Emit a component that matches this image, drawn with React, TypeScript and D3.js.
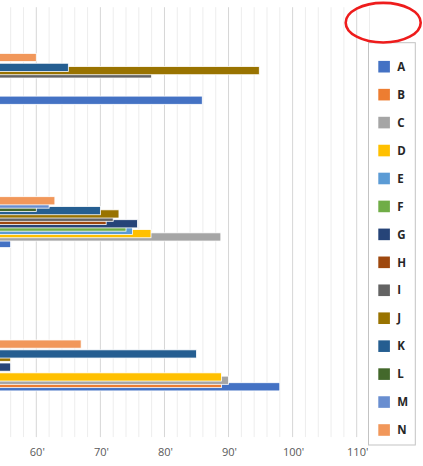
import { useEffect, useRef } from 'react';
import * as d3 from 'd3';

// categories, listed top to bottom as drawn
const CATEGORIES = ['Group 3', 'Group 2', 'Group 1'];

const SERIES = ['A', 'B', 'C', 'D', 'E', 'F', 'G', 'H', 'I', 'J', 'K', 'L', 'M', 'N'];

const COLORS = [
  '#4472C4', '#ED7D31', '#A5A5A5', '#FFC000', '#5B9BD5', '#70AD47', '#264478',
  '#9E480E', '#636363', '#997300', '#255E91', '#43682B', '#698ED0', '#F1975A'
];

// values per series, one per category (null = no bar in view)
const A_VALUES = [85.9, 56, 98];
const B_VALUES = [null, null, 88.9];
const C_VALUES = [null, 88.8, 90];
const D_VALUES = [null, 77.9, 88.9];
const E_VALUES = [null, 75, null];
const F_VALUES = [null, 74, null];
const G_VALUES = [null, 75.8, 56];
const H_VALUES = [null, 70.9, null];
const I_VALUES = [78, 72, null];
const J_VALUES = [94.8, 72.9, 56];
const K_VALUES = [65, 70, 85];
const L_VALUES = [null, 60, null];
const M_VALUES = [null, 62, null];
const N_VALUES = [60, 62.9, 67];

const VALUES: (number | null)[][] = [
  A_VALUES, B_VALUES, C_VALUES, D_VALUES, E_VALUES, F_VALUES, G_VALUES,
  H_VALUES, I_VALUES, J_VALUES, K_VALUES, L_VALUES, M_VALUES, N_VALUES
];

const MAJOR_TICKS = [60, 70, 80, 90, 100, 110];
const MINOR_TICKS = [56, 58, 62, 64, 66, 68, 72, 74, 76, 78, 82, 84, 86, 88, 92, 94, 96, 98, 102, 104, 106, 108, 112];

export default function App() {
  const svgRef = useRef<SVGSVGElement>(null);

  useEffect(() => {
    if (!svgRef.current) return;
    const width = 423;
    const height = 466;
    const plotTop = 7.2;
    const plotBottom = 437.1;
    const barHeight = 8.2;

    const svg = d3.select(svgRef.current);
    svg.selectAll('*').remove();
    svg.attr('width', width).attr('height', height);

    const x = d3.scaleLinear().domain([60, 110]).range([36.3, 356.7]);

    const y = d3.scaleBand()
      .domain(CATEGORIES)
      .range([plotTop, plotBottom])
      .paddingInner(0.6445)
      .paddingOuter(0.6445 / 2);

    // N at the top of each group, A at the bottom
    const offset = d3.scalePoint()
      .domain([...SERIES].reverse())
      .range([0, y.bandwidth() - barHeight]);

    // Gridlines
    svg.append('g')
      .selectAll('line')
      .data(MINOR_TICKS)
      .enter()
      .append('line')
      .attr('x1', d => x(d))
      .attr('x2', d => x(d))
      .attr('y1', plotTop)
      .attr('y2', plotBottom)
      .attr('stroke', '#ededed')
      .attr('stroke-width', 1);

    svg.append('g')
      .selectAll('line')
      .data(MAJOR_TICKS)
      .enter()
      .append('line')
      .attr('x1', d => x(d))
      .attr('x2', d => x(d))
      .attr('y1', plotTop)
      .attr('y2', plotBottom)
      .attr('stroke', '#d6d6d6')
      .attr('stroke-width', 1);

    // Bars, A drawn first so later series sit on top
    const barsG = svg.append('g');
    SERIES.forEach((s, si) => {
      CATEGORIES.forEach((c, ci) => {
        const v = VALUES[si][ci];
        if (v == null) return;
        const x0 = -2;
        barsG.append('rect')
          .attr('x', x0)
          .attr('y', (y(c) || 0) + (offset(s) || 0))
          .attr('width', x(v) - x0)
          .attr('height', barHeight)
          .attr('fill', COLORS[si])
          .attr('stroke', '#ffffff')
          .attr('stroke-width', 0.8);
      });
    });

    // Tick labels
    svg.append('g')
      .selectAll('text')
      .data(MAJOR_TICKS)
      .enter()
      .append('text')
      .attr('x', d => x(d) + 1)
      .attr('y', 456)
      .attr('text-anchor', 'middle')
      .attr('font-family', "'Open Sans', sans-serif")
      .attr('font-size', '11px')
      .attr('fill', '#595959')
      .text(d => `${d}'`);

    // Legend
    const legend = svg.append('g');
    legend.append('rect')
      .attr('x', 368.5)
      .attr('y', 42.7)
      .attr('width', 46.8)
      .attr('height', 402.3)
      .attr('fill', '#ffffff')
      .attr('stroke', '#c3c3c3')
      .attr('stroke-width', 1);

    const ly = d3.scalePoint().domain(SERIES).range([66.7, 430]);

    legend.selectAll('.swatch')
      .data(SERIES)
      .enter()
      .append('rect')
      .attr('class', 'swatch')
      .attr('x', 378.3)
      .attr('y', d => (ly(d) || 0) - 5.8)
      .attr('width', 11.6)
      .attr('height', 11.6)
      .attr('fill', (_, i) => COLORS[i]);

    legend.selectAll('.label')
      .data(SERIES)
      .enter()
      .append('text')
      .attr('class', 'label')
      .attr('x', 397.3)
      .attr('y', d => (ly(d) || 0) + 4.2)
      .attr('font-family', "'Open Sans', sans-serif")
      .attr('font-size', '11.5px')
      .attr('font-weight', '700')
      .attr('fill', '#262626')
      .text(d => d);

    // Red annotation ellipse
    svg.append('ellipse')
      .attr('cx', 383.2)
      .attr('cy', 22.7)
      .attr('rx', 37.5)
      .attr('ry', 19.8)
      .attr('fill', 'none')
      .attr('stroke', '#ee1c1c')
      .attr('stroke-width', 2.6);
  }, []);

  return (
    <div style={{ position: 'absolute', left: 0, top: 0, background: '#ffffff' }}>
      <svg ref={svgRef} style={{ display: 'block' }}></svg>
    </div>
  );
}
